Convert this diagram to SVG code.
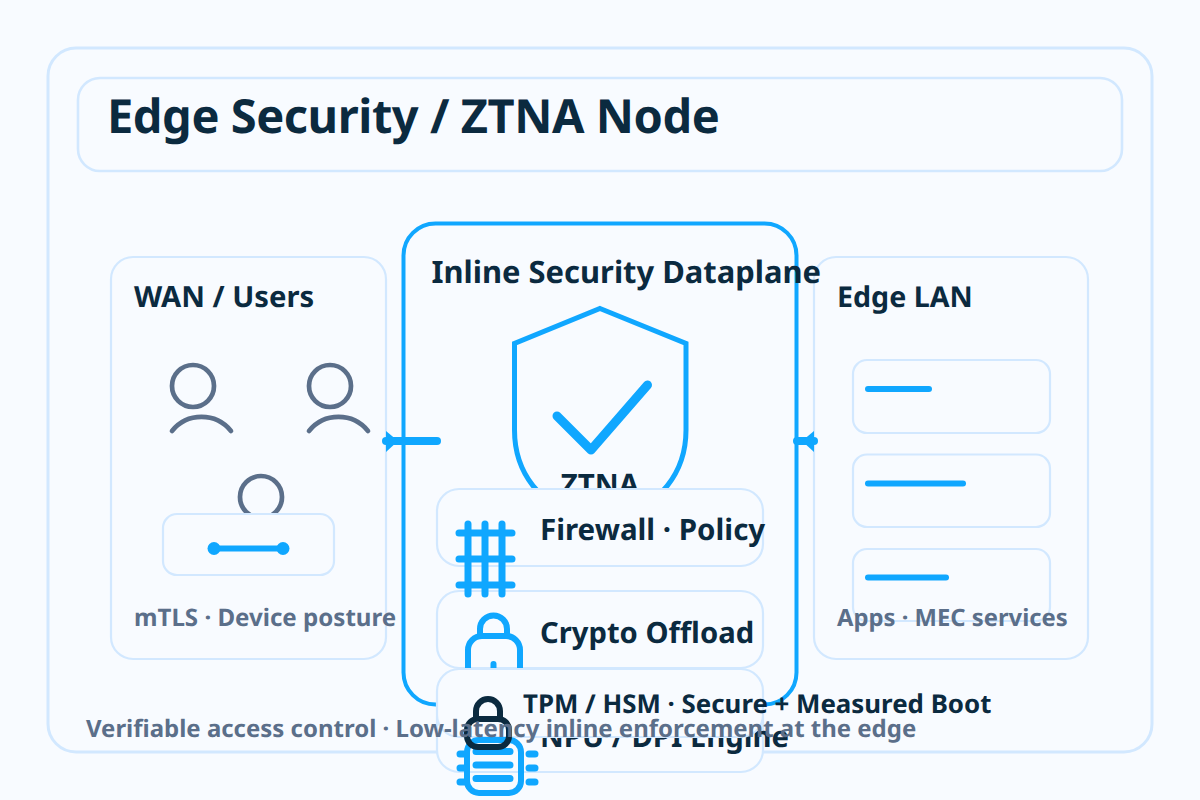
<svg xmlns="http://www.w3.org/2000/svg" width="1200" height="800" viewBox="0 0 1200 800">
<style>
.box{fill:#f8fbff;stroke:#d2e8ff;stroke-width:2.200}
.blue{fill:none;stroke:#10a7ff;stroke-width:6;stroke-linecap:round;stroke-linejoin:round}
.gray{fill:none;stroke:#5b6f8a;stroke-width:4.700;stroke-linecap:round}
.dark{fill:none;stroke:#0b2a3f;stroke-width:6;stroke-linecap:round;stroke-linejoin:round}
text{font-family:"Noto Sans","Open Sans",sans-serif;font-weight:700;fill:#0b2a3f;text-rendering:geometricPrecision}
.s{fill:#5b6f8a}
</style>
<rect width="1200" height="800" fill="#f8fbff"/>
<g id="frame"><rect class="box" style="stroke-width:3" x="48" y="48" width="1104" height="704" rx="28"/></g>
<g id="header"><rect class="box" style="stroke-width:2.600" x="78" y="78" width="1044" height="93" rx="22"/>
<text x="107" y="133" font-size="47" letter-spacing="-0.450">Edge Security / ZTNA Node</text></g>
<g id="wan"><rect class="box" x="111" y="257" width="275" height="402" rx="22"/>
<text x="134" y="307" font-size="29.200">WAN / Users</text>
<circle class="gray" cx="193" cy="386" r="21"/><path class="gray" d="M172 431A38 38 0 0 1 231 431"/>
<circle class="gray" cx="330" cy="386" r="21"/><path class="gray" d="M309 431A38 38 0 0 1 368 431"/>
<circle class="gray" cx="261" cy="497" r="21"/>
<rect class="box" x="163" y="514" width="171" height="61" rx="14"/>
<path d="M214 548.500H283" class="blue"/><circle cx="214" cy="548.500" r="6.500" fill="#10a7ff"/><circle cx="283" cy="548.500" r="6.500" fill="#10a7ff"/>
<text class="s" x="134" y="626" font-size="24.100">mTLS · Device posture</text></g>
<g id="lan"><rect class="box" x="814" y="257" width="274" height="402" rx="22"/>
<text x="837" y="307" font-size="28.600">Edge LAN</text>
<rect class="box" x="853" y="360" width="197" height="73" rx="14"/><path class="blue" d="M868 389H929"/>
<rect class="box" x="853" y="454.500" width="197" height="72.500" rx="14"/><path class="blue" d="M868 483.500H963"/>
<rect class="box" x="853" y="549" width="197" height="72" rx="14"/><path class="blue" d="M868 577.500H946"/>
<text class="s" x="837" y="626" font-size="23.800">Apps · MEC services</text></g>
<g id="dataplane"><rect x="403.500" y="223.500" width="393" height="481" rx="32" fill="none" stroke="#10a7ff" stroke-width="4"/>
<text x="431.500" y="283" font-size="30.900">Inline Security Dataplane</text>
<path d="M600 308.500L686 343.500V430C686 470 665 505 600 530C535 505 514.500 470 514.500 430V343.500Z" fill="none" stroke="#10a7ff" stroke-width="5"/>
<path d="M557 416L591 450L647.500 385" fill="none" stroke="#10a7ff" stroke-width="9" stroke-linecap="round" stroke-linejoin="round"/>
<text x="600" y="495" text-anchor="middle" font-size="29.500">ZTNA</text></g>
<g id="connectors" fill="#10a7ff" stroke="#10a7ff">
<path d="M386 441H437" stroke-width="8" stroke-linecap="round"/><path d="M386 431L398 441L386 452Z" stroke="none"/>
<path d="M797 441H814" stroke-width="8" stroke-linecap="round"/><path d="M814 431L802 441L814 452Z" stroke="none"/>
</g>
<g id="firewall"><rect class="box" x="437" y="489" width="326" height="77" rx="22"/>
<text x="540" y="540" font-size="29.500">Firewall · Policy</text></g>
<g id="crypto"><rect class="box" x="437" y="591" width="326" height="77" rx="22"/>
<text x="540" y="643" font-size="29.200">Crypto Offload</text>
<rect class="blue" x="468" y="636" width="52" height="50" rx="14"/><path class="blue" d="M480 636V629A13.500 13.500 0 0 1 507 629V636"/><path class="blue" d="M493.500 664V668"/></g>
<g id="firewall-icon"><path d="M468 524V594M485 524V594M502 524V594M459 533H512M459 559H512M459 585H512" fill="none" stroke="#10a7ff" stroke-width="7" stroke-linecap="round"/></g>
<g id="npu"><rect class="box" x="437" y="694" width="326" height="78" rx="22"/>
<text x="540" y="747" font-size="29.250">NPU / DPI Engine</text></g>
<g id="tpm"><rect class="box" x="437" y="669" width="326" height="68" rx="22"/>
<text x="523" y="713" font-size="25.850">TPM / HSM · Secure + Measured Boot</text></g>
<g id="chip"><rect class="blue" x="467" y="740" width="54" height="53" rx="12"/>
<path class="blue" style="stroke-width:7" d="M476 751.500H510M476 765H510M476 778.500H510M460 754H466M460 768H466M460 782H466M529 754H535M529 768H535M529 782H535"/></g>
<g id="lock"><rect class="dark" x="467" y="719" width="42" height="28" rx="11"/><path class="dark" d="M476 719V711A12 12 0 0 1 500 711V719"/></g>
<g id="footer"><text class="s" x="86" y="737" font-size="23.970">Verifiable access control · Low-latency inline enforcement at the edge</text></g>
</svg>
